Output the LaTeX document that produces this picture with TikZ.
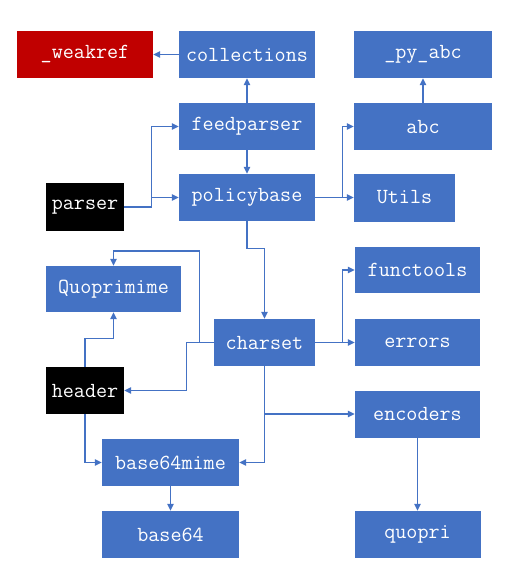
\documentclass[tikz,border=0pt]{standalone}
\usepackage{xcolor}
\usepackage{tikz}
\usetikzlibrary{positioning,calc,arrows.meta}

\definecolor{modblue}{HTML}{4472C4}
\definecolor{modred}{HTML}{C00000}

\begin{document}
\begin{tikzpicture}[x=1pt,y=-1pt,
    mod/.style={fill=modblue, text=white, inner sep=0pt, minimum height=47pt,
        font=\ttfamily\fontsize{21.5}{23}\selectfont},
    modred/.style={mod, fill=modred},
    modblack/.style={mod, fill=black},
    dep/.style={draw=modblue, line width=1.1pt, -{Triangle[length=7pt,width=6.5pt]}}]
    \useasboundingbox (0,0) rectangle (512,573);

    % Top rows
    \node[modred, minimum width=136pt] (weakref) at (85,54.5) {\_weakref};
    \node[mod, minimum width=136pt] (collections) at (247,54.5) {collections};
    \node[mod, minimum width=138pt] (pyabc) at (423,54.5) {\_py\_abc};
    \node[mod, minimum width=136pt] (feedparser) at (247,126.5) {feedparser};
    \node[mod, minimum width=138pt] (abc) at (423,126.5) {abc};
    \node[modblack, minimum width=78pt, minimum height=48pt] (parser) at (85,207) {parser};
    \node[mod, minimum width=136pt] (policybase) at (247,197.5) {policybase};
    \node[mod, minimum width=101pt, minimum height=48pt] (utils) at (404.5,197.5) {Utils};

    % Middle rows
    \node[mod, minimum width=135pt, minimum height=46pt] (quoprimime) at (113.5,289) {Quoprimime};
    \node[mod, minimum width=125pt, minimum height=46pt] (functools) at (417.5,270) {functools};
    \node[mod, minimum width=101pt] (charset) at (264.5,342.5) {charset};
    \node[mod, minimum width=125pt] (errors) at (417.5,342.5) {errors};
    \node[modblack, minimum width=78pt] (header) at (85,390.5) {header};
    \node[mod, minimum width=125pt] (encoders) at (417.5,414) {encoders};

    % Bottom rows
    \node[mod, minimum width=137pt] (base64mime) at (170.5,462.5) {base64mime};
    \node[mod, minimum width=137pt] (base64) at (170.5,534.5) {base64};
    \node[mod, minimum width=126pt] (quopri) at (417.5,534.5) {quopri};

    % Connectors
    \draw[dep] (collections) -- (weakref);
    \draw[dep] (feedparser) -- (collections);
    \draw[dep] (feedparser) -- (policybase);
    \draw[dep] (abc) -- (pyabc);
    \draw[dep] (parser.east) -- ++(27,0) |- (feedparser.west);
    \draw[dep] (parser.east) -- ++(27,0) |- (policybase.west);
    \draw[dep] (policybase.east) -- ++(27,0) |- (abc.west);
    \draw[dep] (policybase) -- (utils);
    \draw[dep] (policybase.south) -- ++(0,27) -| (charset.north);
    \draw[dep] (charset.west) -- ++(-14,0) |- ++(0,-91.5) -| (quoprimime.north);
    \draw[dep] (charset.west) -- ++(-27,0) |- (header.east);
    \draw[dep] (header.north) -- ++(0,-28) -| (quoprimime.south);
    \draw[dep] (header.south) |- (base64mime.west);
    \draw[dep] (charset.south) |- (base64mime.east);
    \draw[dep] (charset.south) |- (encoders.west);
    \draw[dep] (charset.east) -- ++(27,0) |- (functools.west);
    \draw[dep] (charset) -- (errors);
    \draw[dep] (encoders) -- (quopri);
    \draw[dep] (base64mime) -- (base64);
\end{tikzpicture}
\end{document}
